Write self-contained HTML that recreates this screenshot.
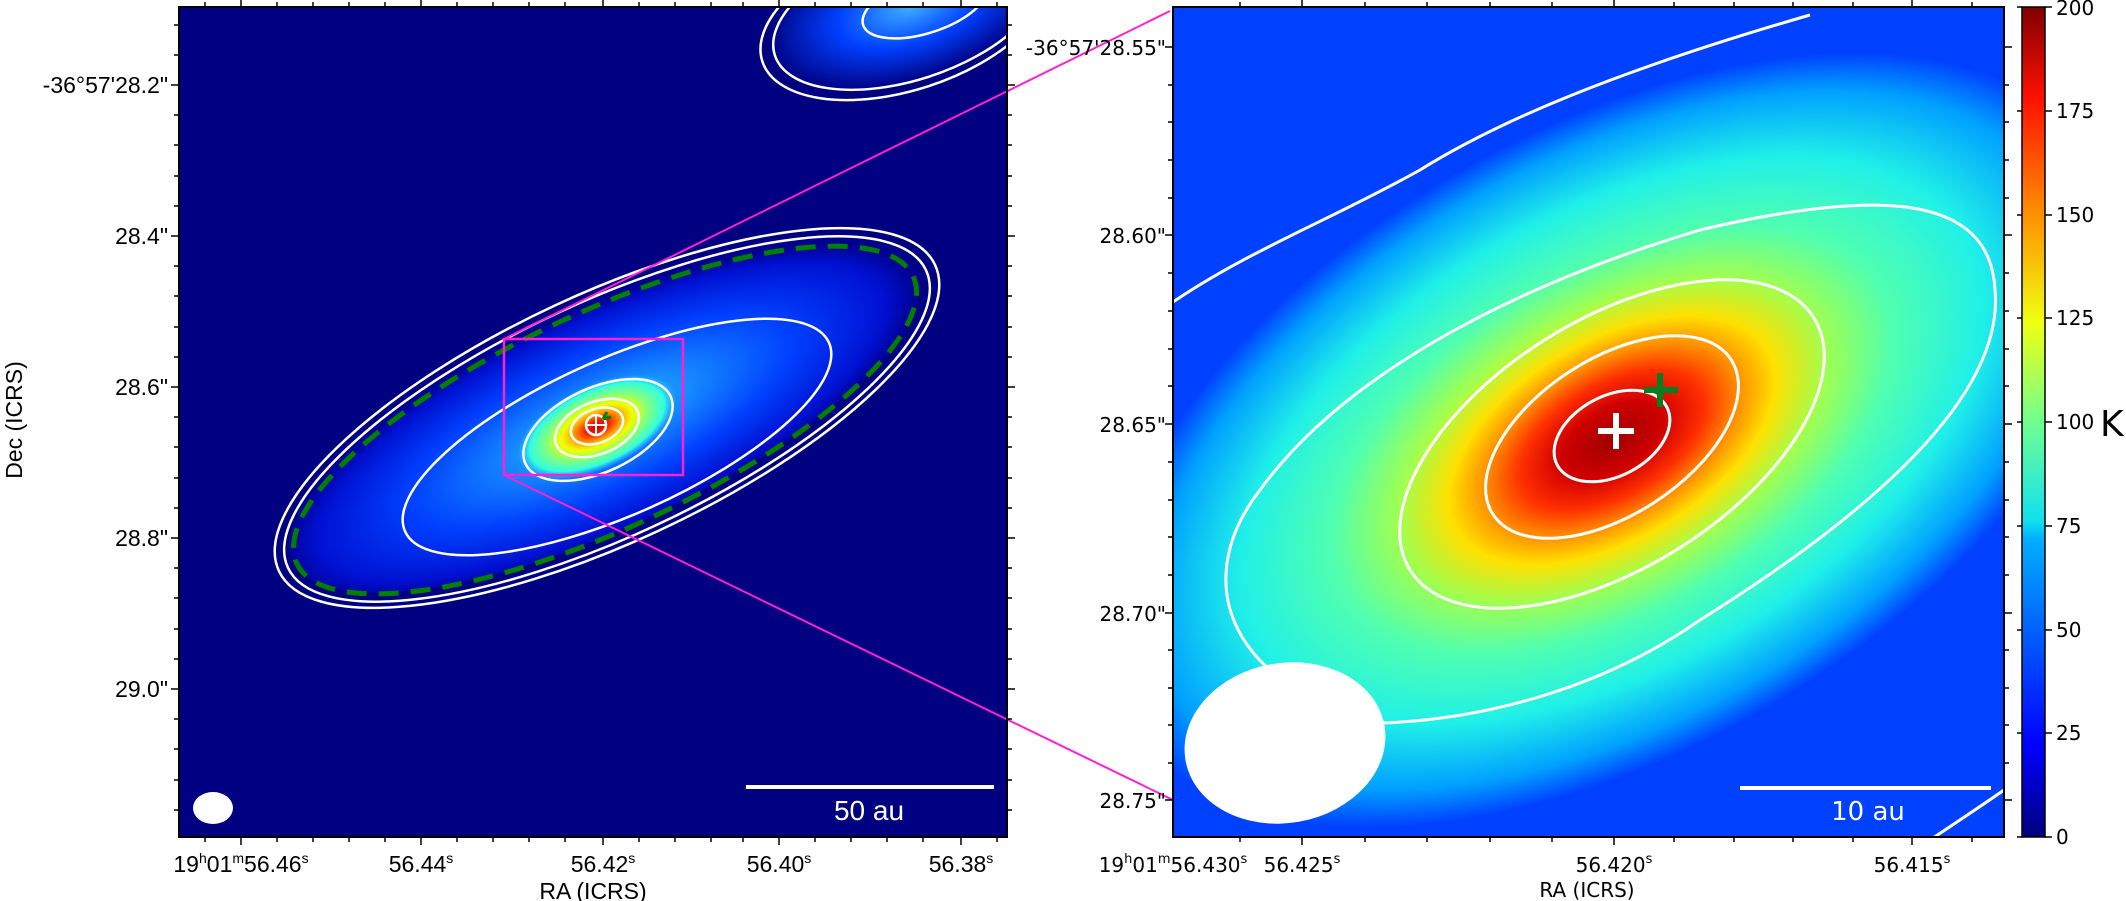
<!DOCTYPE html>
<html><head><meta charset="utf-8"><style>
html,body{margin:0;padding:0;background:#fff;width:2126px;height:901px;overflow:hidden}
svg{display:block}
.l{font-family:"Liberation Sans Narrow","Liberation Sans",sans-serif;font-size:23px;fill:#000}
.r{font-family:"DejaVu Sans","Liberation Sans",sans-serif;font-size:20px;fill:#000}
</style></head><body>
<svg width="2126" height="901" viewBox="0 0 2126 901" xmlns="http://www.w3.org/2000/svg">
<defs>
<clipPath id="cl"><rect x="179" y="7" width="828" height="830"/></clipPath>
<clipPath id="cr"><rect x="1173" y="7" width="831" height="830"/></clipPath>
<radialGradient id="disk" cx="0.49" cy="0.52" r="0.5">
<stop offset="0" stop-color="#30c0ff"/><stop offset="0.25" stop-color="#1890ff"/><stop offset="0.6" stop-color="#0040ff"/><stop offset="0.9" stop-color="#0010d0"/><stop offset="1" stop-color="#000090"/>
</radialGradient>
<radialGradient id="core">
<stop offset="0" stop-color="#c00000"/><stop offset="0.15" stop-color="#ff2000"/><stop offset="0.3" stop-color="#ffa000"/><stop offset="0.45" stop-color="#f0ff00"/><stop offset="0.65" stop-color="#80ff80"/><stop offset="0.85" stop-color="#30ffe0"/><stop offset="1" stop-color="#30c0ff" stop-opacity="0"/>
</radialGradient>
<radialGradient id="blob" cx="0.5" cy="0.4" r="0.5">
<stop offset="0" stop-color="#40b0ff"/><stop offset="0.5" stop-color="#0040ff"/><stop offset="1" stop-color="#000080"/>
</radialGradient>
<radialGradient id="field" gradientUnits="userSpaceOnUse" cx="0" cy="0" r="1" gradientTransform="translate(1612,440) rotate(-30) scale(560,310)">
<stop offset="0" stop-color="#a00000"/><stop offset="0.1" stop-color="#d00000"/><stop offset="0.18" stop-color="#ff3000"/><stop offset="0.25" stop-color="#ff9000"/><stop offset="0.32" stop-color="#ffe000"/><stop offset="0.42" stop-color="#a0ff50"/><stop offset="0.55" stop-color="#50ffb0"/><stop offset="0.73" stop-color="#20f0e8"/><stop offset="0.9" stop-color="#00a0ff"/><stop offset="1" stop-color="#0040ff"/>
</radialGradient>
<linearGradient id="cb" x1="0" y1="1" x2="0" y2="0">
<stop offset="0" stop-color="#00007f"/><stop offset="0.11" stop-color="#0000ff"/><stop offset="0.36" stop-color="#00b0ff"/><stop offset="0.38" stop-color="#10e0f0"/><stop offset="0.5" stop-color="#70ff90"/><stop offset="0.62" stop-color="#f0ff10"/><stop offset="0.75" stop-color="#ff9000"/><stop offset="0.89" stop-color="#ff1000"/><stop offset="1" stop-color="#800000"/>
</linearGradient>
</defs>

<!-- LEFT PANEL -->
<g clip-path="url(#cl)">
<rect x="179" y="7" width="828" height="830" fill="#000080"/>
<ellipse cx="915" cy="20" rx="150" ry="75" transform="rotate(-18 915 20)" fill="url(#blob)"/>
<ellipse cx="605" cy="415" rx="345" ry="112" transform="rotate(-25 605 415)" fill="url(#disk)"/>
<ellipse cx="597" cy="427" rx="85" ry="42" transform="rotate(-25 597 427)" fill="url(#core)"/>
<g fill="none" stroke="#fff" stroke-width="2.5">
<ellipse cx="905" cy="15" rx="150" ry="75" transform="rotate(-18 905 15)"/>
<ellipse cx="908" cy="12" rx="140" ry="68" transform="rotate(-18 908 12)"/>
<ellipse cx="925" cy="5" rx="65" ry="28" transform="rotate(-18 925 5)"/>
<ellipse cx="607" cy="418" rx="362" ry="124" transform="rotate(-25 607 418)"/>
<ellipse cx="607" cy="419" rx="352" ry="117" transform="rotate(-25 607 419)"/>
<ellipse cx="617" cy="437" rx="232" ry="78" transform="rotate(-24 617 437)"/>
<ellipse cx="598" cy="430" rx="80" ry="42" transform="rotate(-25 598 430)"/>
<ellipse cx="597" cy="428" rx="44" ry="26" transform="rotate(-22 597 428)"/>
<ellipse cx="597" cy="426" rx="27" ry="17" transform="rotate(-20 597 426)"/>
<circle cx="596" cy="425" r="10"/>
<path d="M586,425 H606 M596,415 V435" stroke-width="2"/>
</g>
<ellipse cx="605" cy="420" rx="340" ry="108" transform="rotate(-25 605 420)" fill="none" stroke="#008000" stroke-width="5" stroke-dasharray="20,12"/>
<path d="M603,419 l4,-7 M603,419 l8,-2" stroke="#008000" stroke-width="3"/>
<rect x="504" y="339" width="179" height="136" fill="none" stroke="#ff20d0" stroke-width="2.5"/>
<ellipse cx="213" cy="808" rx="20" ry="16" fill="#fff"/>
<line x1="746" y1="787" x2="994" y2="787" stroke="#fff" stroke-width="4"/>
<text x="869" y="820" text-anchor="middle" style="font-family:'Liberation Sans Narrow','Liberation Sans',sans-serif;font-size:28px;fill:#fff">50 au</text>
</g>
<line x1="504" y1="339" x2="1170" y2="11" stroke="#ff20d0" stroke-width="2"/>
<line x1="504" y1="475" x2="1173" y2="800" stroke="#ff20d0" stroke-width="2"/>
<rect x="179" y="7" width="828" height="830" fill="none" stroke="#000" stroke-width="2"/>
<g stroke="#000" stroke-width="1.5">
<path d="M241,837v8M421,837v8M603,837v8M779,837v8M961,837v8M241,7v-8M421,7v-8M603,7v-8M779,7v-8M961,7v-8"/>
<path d="M205,837v5M277,837v5M313,837v5M349,837v5M385,837v5M457,837v5M493,837v5M529,837v5M565,837v5M639,837v5M675,837v5M711,837v5M743,837v5M815,837v5M851,837v5M887,837v5M923,837v5M997,837v5"/>
<path d="M205,7v-5M277,7v-5M313,7v-5M349,7v-5M385,7v-5M457,7v-5M493,7v-5M529,7v-5M565,7v-5M639,7v-5M675,7v-5M711,7v-5M743,7v-5M815,7v-5M851,7v-5M887,7v-5M923,7v-5M997,7v-5"/>
<path d="M179,85h-8M179,236h-8M179,387h-8M179,538h-8M179,689h-8M1007,85h8M1007,236h8M1007,387h8M1007,538h8M1007,689h8"/>
<path d="M179,25h-5M179,55h-5M179,115h-5M179,145h-5M179,176h-5M179,206h-5M179,266h-5M179,296h-5M179,327h-5M179,357h-5M179,417h-5M179,447h-5M179,478h-5M179,508h-5M179,568h-5M179,598h-5M179,629h-5M179,659h-5M179,719h-5M179,749h-5M179,780h-5M179,810h-5"/>
<path d="M1007,25h5M1007,55h5M1007,115h5M1007,145h5M1007,176h5M1007,206h5M1007,266h5M1007,296h5M1007,327h5M1007,357h5M1007,417h5M1007,447h5M1007,478h5M1007,508h5M1007,568h5M1007,598h5M1007,629h5M1007,659h5M1007,719h5M1007,749h5M1007,780h5M1007,810h5"/>
</g>
<g class="l" text-anchor="end">
<text x="168" y="93">-36°57'28.2"</text>
<text x="168" y="244">28.4"</text>
<text x="168" y="395">28.6"</text>
<text x="168" y="546">28.8"</text>
<text x="168" y="697">29.0"</text>
</g>
<g class="l" text-anchor="middle">
<text x="241" y="872">19<tspan dy="-9" font-size="14">h</tspan><tspan dy="9">01</tspan><tspan dy="-9" font-size="14">m</tspan><tspan dy="9">56.46</tspan><tspan dy="-9" font-size="14">s</tspan></text>
<text x="421" y="872">56.44<tspan dy="-9" font-size="14">s</tspan></text>
<text x="603" y="872">56.42<tspan dy="-9" font-size="14">s</tspan></text>
<text x="779" y="872">56.40<tspan dy="-9" font-size="14">s</tspan></text>
<text x="961" y="872">56.38<tspan dy="-9" font-size="14">s</tspan></text>
<text x="593" y="899">RA (ICRS)</text>
<text transform="translate(22,420) rotate(-90)">Dec (ICRS)</text>
</g>

<!-- RIGHT PANEL -->
<g clip-path="url(#cr)">
<rect x="1173" y="7" width="831" height="830" fill="url(#field)"/>
<g fill="none" stroke="#fff" stroke-width="3">
<path d="M1173,302 C1250,250 1330,220 1420,170 C1500,120 1620,70 1810,15"/>
<path d="M1360,715 C1230,680 1190,580 1260,490 C1340,380 1500,290 1700,230 C1870,190 1990,190 1995,290 C2005,400 1860,520 1700,620 C1600,690 1480,720 1380,723 Z"/>
<ellipse cx="1612" cy="444" rx="238" ry="124" transform="rotate(-32 1612 444)"/>
<ellipse cx="1612" cy="437" rx="142" ry="78" transform="rotate(-33 1612 437)"/>
<ellipse cx="1612" cy="436" rx="62" ry="40" transform="rotate(-28 1612 436)"/>
<path d="M1930,840 C1960,820 1990,800 2004,790"/>
</g>
<path d="M1598,431 H1634 M1616,413 V449" stroke="#fff" stroke-width="6"/>
<path d="M1644,390 H1678 M1660,373 V407" stroke="#008020" stroke-width="6"/>
<ellipse cx="1285" cy="743" rx="101" ry="80" transform="rotate(-10 1285 743)" fill="#fff"/>
<line x1="1740" y1="788" x2="1991" y2="788" stroke="#fff" stroke-width="4"/>
<text x="1868" y="820" text-anchor="middle" style="font-family:'DejaVu Sans','Liberation Sans',sans-serif;font-size:26px;fill:#fff">10 au</text>
</g>
<rect x="1173" y="7" width="831" height="830" fill="none" stroke="#000" stroke-width="2"/>
<g stroke="#000" stroke-width="1.5">
<path d="M1302,837v8M1614,837v8M1912,837v8M1302,7v-8M1614,7v-8M1912,7v-8"/>
<path d="M1240,837v5M1365,837v5M1427,837v5M1490,837v5M1552,837v5M1674,837v5M1734,837v5M1793,837v5M1853,837v5M1972,837v5"/>
<path d="M1240,7v-5M1365,7v-5M1427,7v-5M1490,7v-5M1552,7v-5M1674,7v-5M1734,7v-5M1793,7v-5M1853,7v-5M1972,7v-5"/>
<path d="M1173,47h-8M1173,235h-8M1173,424h-8M1173,613h-8M1173,800h-8M2004,47h8M2004,235h8M2004,424h8M2004,613h8M2004,800h8"/>
<path d="M1173,85h-5M1173,122h-5M1173,160h-5M1173,198h-5M1173,273h-5M1173,311h-5M1173,349h-5M1173,386h-5M1173,462h-5M1173,500h-5M1173,537h-5M1173,575h-5M1173,650h-5M1173,688h-5M1173,725h-5M1173,763h-5"/>
<path d="M2004,85h5M2004,122h5M2004,160h5M2004,198h5M2004,273h5M2004,311h5M2004,349h5M2004,386h5M2004,462h5M2004,500h5M2004,537h5M2004,575h5M2004,650h5M2004,688h5M2004,725h5M2004,763h5"/>
</g>
<g class="r" text-anchor="end">
<text x="1166" y="55">-36°57'28.55"</text>
<text x="1166" y="243">28.60"</text>
<text x="1166" y="432">28.65"</text>
<text x="1166" y="621">28.70"</text>
<text x="1166" y="808">28.75"</text>
</g>
<g class="r" text-anchor="middle">
<text x="1173" y="872">19<tspan dy="-9" font-size="13">h</tspan><tspan dy="9">01</tspan><tspan dy="-9" font-size="13">m</tspan><tspan dy="9">56.430</tspan><tspan dy="-9" font-size="13">s</tspan></text>
<text x="1302" y="872">56.425<tspan dy="-9" font-size="13">s</tspan></text>
<text x="1614" y="872">56.420<tspan dy="-9" font-size="13">s</tspan></text>
<text x="1912" y="872">56.415<tspan dy="-9" font-size="13">s</tspan></text>
<text x="1587" y="897">RA (ICRS)</text>
</g>

<!-- COLORBAR -->
<rect x="2022" y="7" width="23" height="830" fill="url(#cb)" stroke="#000" stroke-width="1.5"/>
<g stroke="#000" stroke-width="1.5">
<path d="M2045,837h7M2045,733h7M2045,630h7M2045,526h7M2045,422h7M2045,318h7M2045,215h7M2045,111h7M2045,7h7"/>
<path d="M2022,837h-5M2022,733h-5M2022,630h-5M2022,526h-5M2022,422h-5M2022,318h-5M2022,215h-5M2022,111h-5M2022,7h-5"/>
</g>
<g class="r">
<text x="2056" y="844">0</text>
<text x="2056" y="740">25</text>
<text x="2056" y="637">50</text>
<text x="2056" y="533">75</text>
<text x="2056" y="429">100</text>
<text x="2056" y="325">125</text>
<text x="2056" y="222">150</text>
<text x="2056" y="118">175</text>
<text x="2056" y="15">200</text>
<text x="2100" y="436" font-size="36">K</text>
</g>
</svg>
</body></html>
